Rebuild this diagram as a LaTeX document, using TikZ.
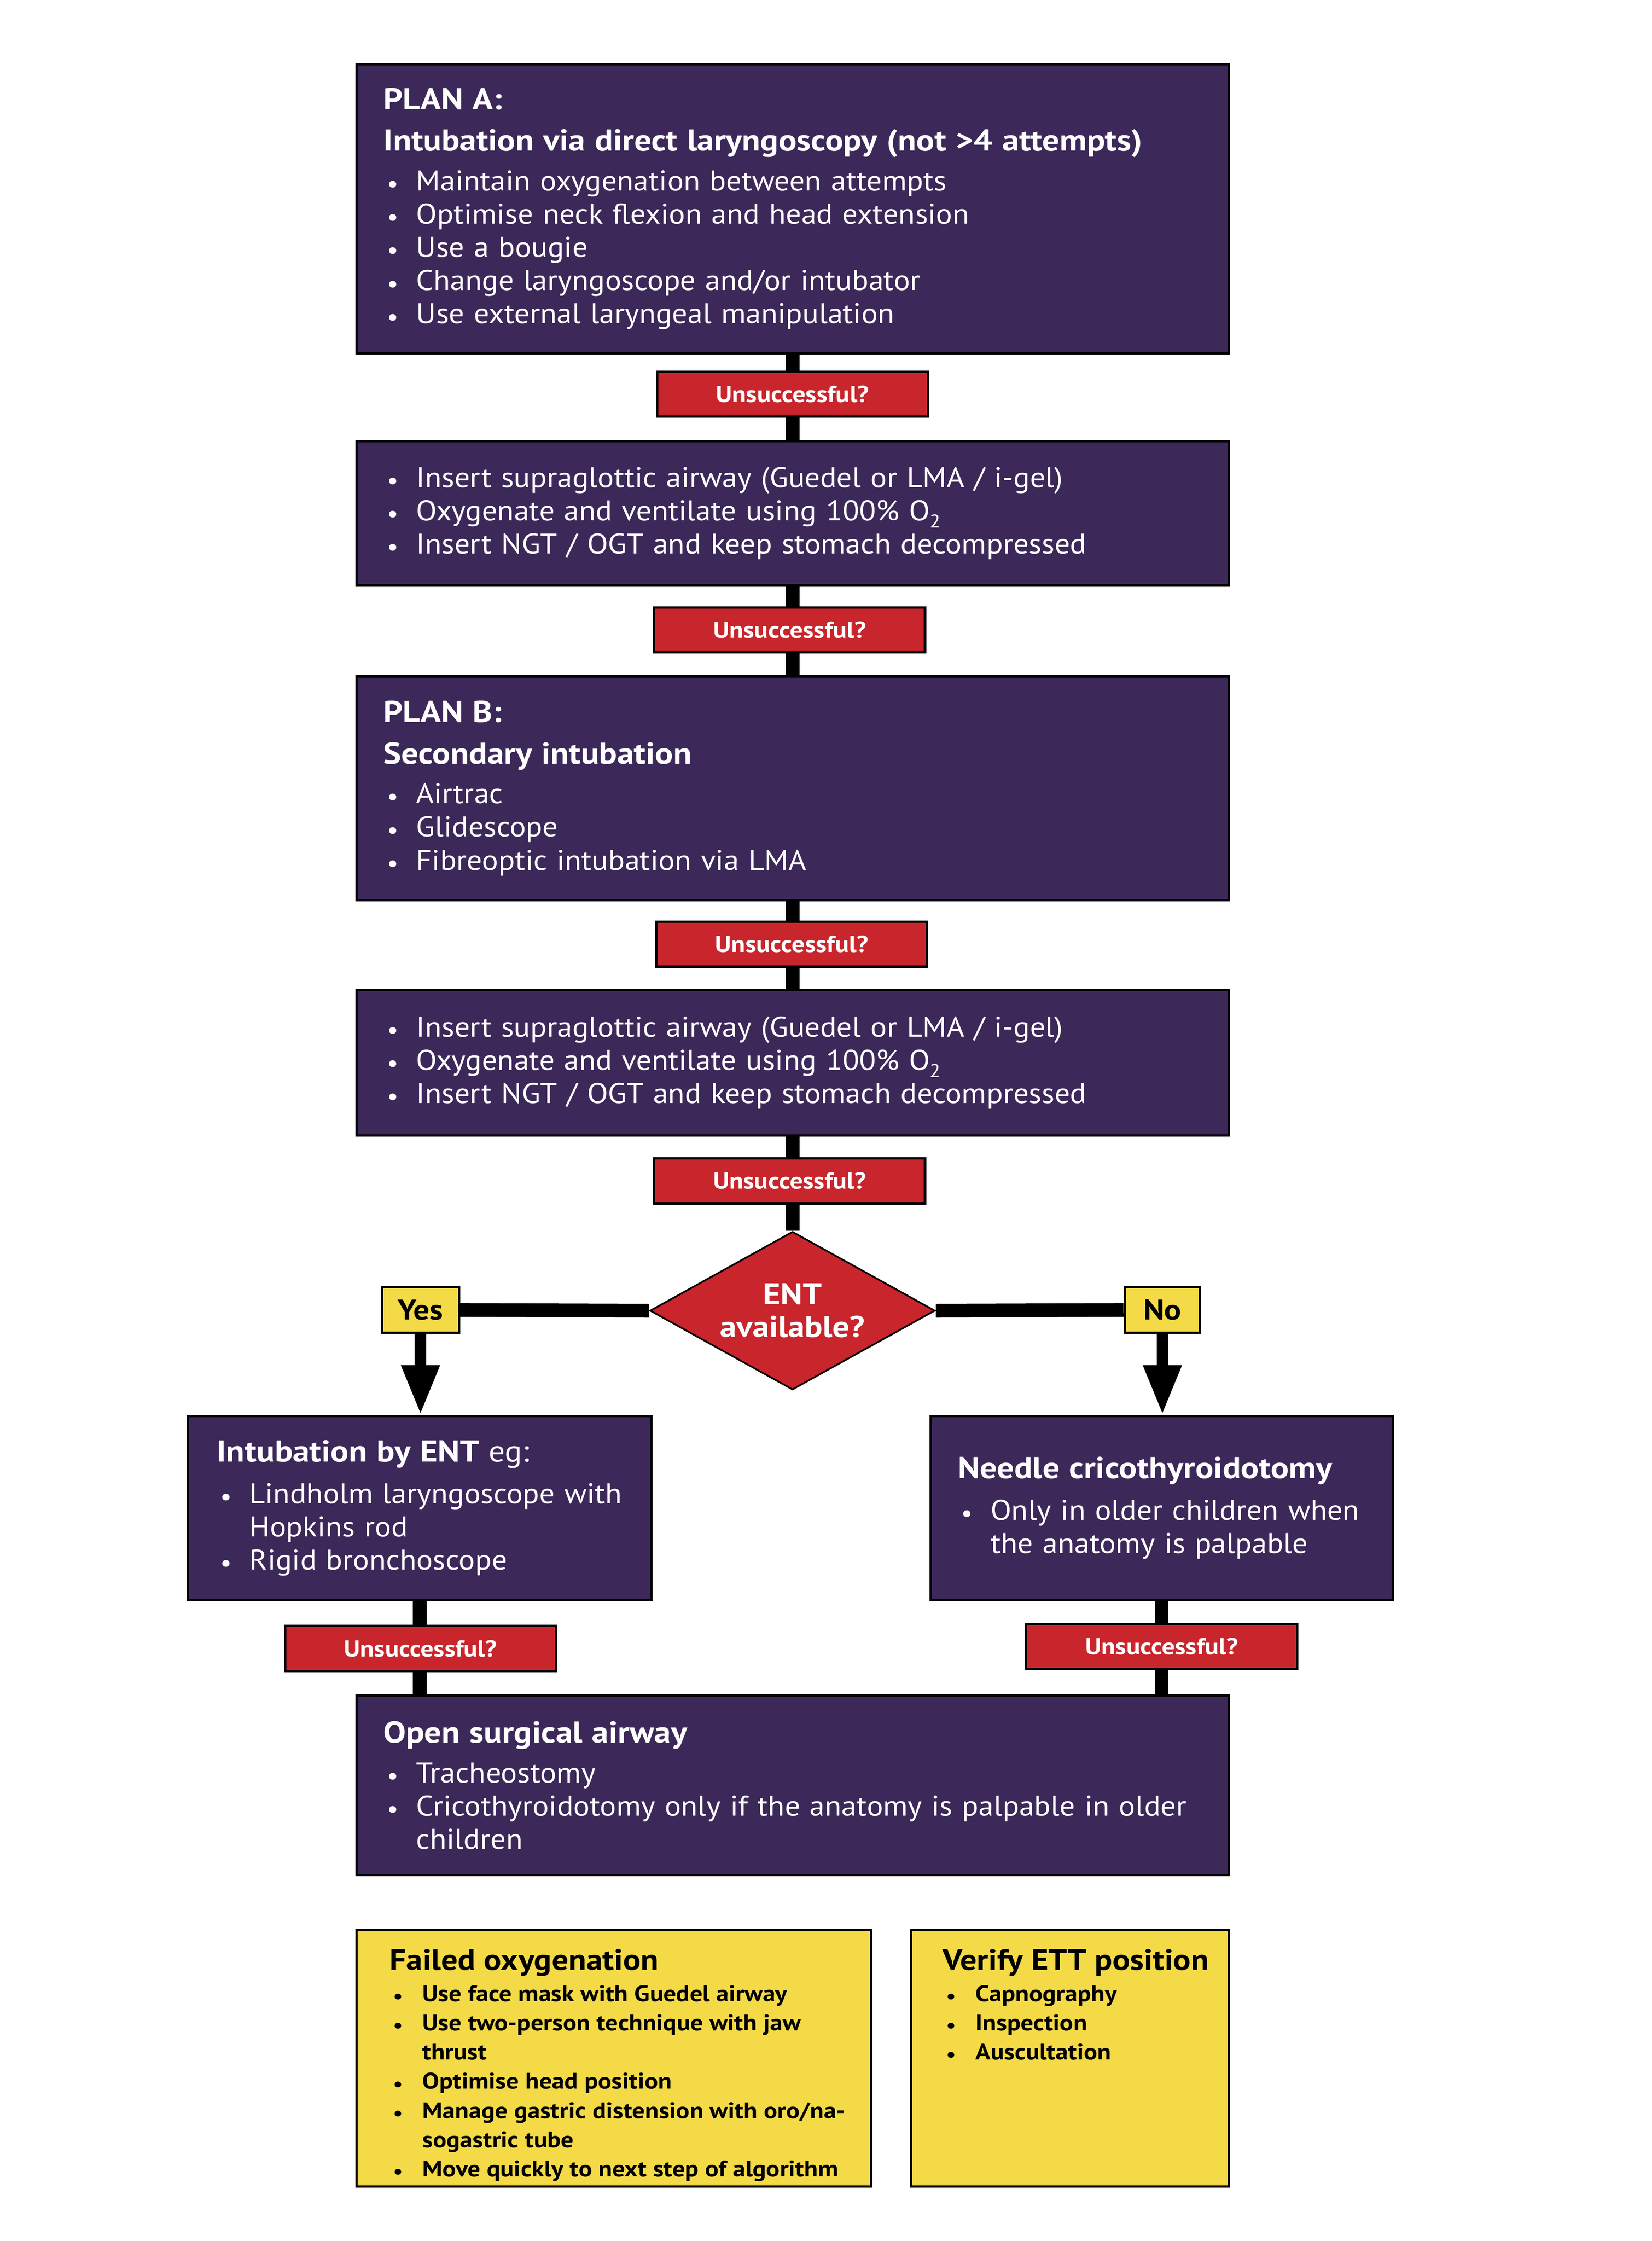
\documentclass[tikz,border=0pt]{standalone}
\usepackage{fontspec}
\setmainfont{PT Sans}[FakeStretch=1.07, BoldFont={PT Sans Bold}, BoldFeatures={FakeStretch=1.12}]
\usetikzlibrary{shapes.geometric,arrows.meta,calc,backgrounds}
\definecolor{purp}{HTML}{3C2859}
\definecolor{redb}{HTML}{C9252C}
\definecolor{yelb}{HTML}{F4DA47}
\newcommand\smallbul{\raisebox{-0.5pt}{\scalebox{0.85}{\textbullet}}}
\newcommand\bl{\makebox[11.5pt][l]{\hspace{1.2pt}\smallbul}}
\newcommand\blc{\hspace*{11.5pt}}
\newcommand\ybl{\makebox[11.5pt][l]{\hspace{1.2pt}\smallbul}}
\newcommand\subtwo{\raisebox{-2.6pt}{\fontsize{6.5}{6.5}\selectfont 2}}
\begin{document}
\begin{tikzpicture}[x=0.5pt,y=-0.5pt,
  pbox/.style={draw=black, line width=0.8pt, fill=purp, text=white, align=left,
    inner xsep=9.5pt, inner ysep=0pt, font=\fontsize{10}{11.65}\selectfont},
  ubox/.style={draw=black, line width=0.8pt, fill=redb, text=white,
    font=\bfseries\fontsize{8.1}{9.6}\selectfont, minimum width=95pt, minimum height=15.75pt, inner sep=0pt},
  ybox/.style={draw=black, line width=0.8pt, fill=yelb, inner sep=0pt},
  ytext/.style={anchor=north west, inner sep=0pt, align=left, text=black,
    font=\bfseries\fontsize{7.9}{10.25}\selectfont},
  yn/.style={draw=black, line width=0.8pt, fill=yelb, text=black, inner sep=0pt,
    font=\bfseries\fontsize{10}{11}\selectfont, minimum height=16pt},
  conn/.style={line width=4.8pt, black},
  arr/.style={line width=4pt, black, -{Triangle[length=17.5pt,width=12.5pt]}}
]
\begin{scope}[on background layer]
\fill[white] (0,0) rectangle (1159,1572.2);
\end{scope}
\useasboundingbox (0,0) rectangle (1159,1572.2);

\node[pbox, minimum width=306pt, minimum height=101.5pt, text width=287pt] (planA) at (556,146.5) {%
{\fontsize{10.6}{11.65}\selectfont\textbf{PLAN A:}}\\[2.9pt]
{\fontsize{10.6}{11.65}\selectfont\textbf{Intubation via direct laryngoscopy (not >4 attempts)}}\\[2.3pt]
\bl Maintain oxygenation between attempts\\
\bl Optimise neck flexion and head extension\\
\bl Use a bougie\\
\bl Change laryngoscope and/or intubator\\
\bl Use external laryngeal manipulation};

\node[ubox] (u1) at (556,276.5) {Unsuccessful?};

\node[pbox, minimum width=306pt, minimum height=50.5pt, text width=287pt] (sga1) at (556,360) {%
\bl Insert supraglottic airway (Guedel or LMA / i-gel)\\
\bl Oxygenate and ventilate using 100\% O\subtwo\\
\bl Insert NGT / OGT and keep stomach decompressed};

\node[ubox] (u2) at (554,442) {Unsuccessful?};

\node[pbox, minimum width=306pt, minimum height=78.5pt, text width=287pt] (planB) at (556,553) {%
{\fontsize{10.6}{11.65}\selectfont\textbf{PLAN B:}}\\[2.9pt]
{\fontsize{10.6}{11.65}\selectfont\textbf{Secondary intubation}}\\[2.3pt]
\bl Airtrac\\
\bl Glidescope\\
\bl Fibreoptic intubation via LMA};

\node[ubox] (u3) at (555.5,662.5) {Unsuccessful?};

\node[pbox, minimum width=306pt, minimum height=51pt, text width=287pt] (sga2) at (556,745.5) {%
\bl Insert supraglottic airway (Guedel or LMA / i-gel)\\
\bl Oxygenate and ventilate using 100\% O\subtwo\\
\bl Insert NGT / OGT and keep stomach decompressed};

\node[ubox] (u4) at (554,828.5) {Unsuccessful?};

\node[diamond, draw=black, line width=0.6pt, fill=redb, text=white, inner sep=0pt,
  minimum width=100pt, minimum height=55.5pt, aspect=1.8, align=center,
  font=\bfseries\fontsize{10.5}{11.5}\selectfont] (ent) at (556,919.5) {ENT\\available?};

\node[yn, minimum width=27pt] (yes) at (295,919) {Yes};
\node[yn, minimum width=26.5pt] (no) at (815.5,919) {No};

\node[pbox, minimum width=162.5pt, minimum height=64.5pt, text width=142.5pt, inner xsep=10pt] (entb) at (294.5,1058) {%
{\fontsize{10.6}{11.65}\selectfont\textbf{Intubation by ENT} eg:}\\[2.9pt]
\bl Lindholm laryngoscope with\\
\blc Hopkins rod\\
\bl Rigid bronchoscope};

\node[pbox, minimum width=162pt, minimum height=64.5pt, text width=143pt] (needle) at (815,1058) {%
{\fontsize{10.6}{11.65}\selectfont\textbf{Needle cricothyroidotomy}}\\[2.9pt]
\bl Only in older children when\\
\blc the anatomy is palpable};

\node[ubox] (u5) at (295,1156.5) {Unsuccessful?};
\node[ubox] (u6) at (815,1155) {Unsuccessful?};

\node[pbox, minimum width=306pt, minimum height=63pt, text width=287pt] (osa) at (556,1252.5) {%
{\fontsize{10.6}{11.65}\selectfont\textbf{Open surgical airway}}\\[2.4pt]
\bl Tracheostomy\\
\bl Cricothyroidotomy only if the anatomy is palpable in older\\
\blc children};

\node[ybox, minimum width=180.5pt, minimum height=90pt] (fail) at (430.5,1444) {};
\node[ybox, minimum width=111.5pt, minimum height=90pt] (verify) at (750.5,1444) {};

\node[ytext] (failt) at (273,1367) {%
{\fontsize{10.3}{12}\selectfont Failed oxygenation}\\[0.75pt]
\ybl Use face mask with Guedel airway\\
\ybl Use two-person technique with jaw\\
\blc thrust\\
\ybl Optimise head position\\
\ybl Manage gastric distension with oro/na-\\
\blc sogastric tube\\
\ybl Move quickly to next step of algorithm};

\node[ytext] (verit) at (661,1367) {%
{\fontsize{10.3}{12}\selectfont Verify ETT position}\\[0.75pt]
\ybl Capnography\\
\ybl Inspection\\
\ybl Auscultation};

\begin{scope}[on background layer]
\draw[conn] (planA.south) -- (sga1.north);
\draw[conn] (sga1.south) -- (planB.north);
\draw[conn] (planB.south) -- (sga2.north);
\draw[conn] (sga2.south) -- (ent.north);
\draw[conn] (ent.west) -- (yes.east);
\draw[conn] (ent.east) -- (no.west);
\draw[conn] (entb.south) -- (entb.south |- osa.north);
\draw[conn] (needle.south) -- (needle.south |- osa.north);
\end{scope}
\draw[arr] (yes.south) -- (yes.south |- entb.north);
\draw[arr] (no.south) -- (no.south |- needle.north);
\end{tikzpicture}
\end{document}
